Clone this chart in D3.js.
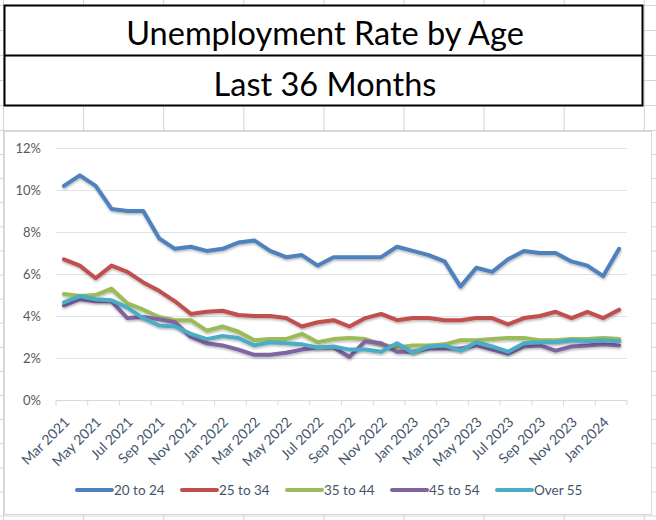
<!DOCTYPE html>
<html lang="en">
  <head>
    <meta charset="utf-8" />
    <title>Unemployment Rate by Age</title>
    <script src="https://d3js.org/d3.v7.min.js" charset="utf-8"></script>
    <style>
      body { margin: 0; background: #fff; }
      svg text { font-family: Lato, "Noto Sans", sans-serif; }
    </style>
  </head>
  <body>
    <div id="graph-container"></div>
    <script type="text/javascript">
      const months = [
        "Mar 2021", "Apr 2021", "May 2021", "Jun 2021", "Jul 2021", "Aug 2021",
        "Sep 2021", "Oct 2021", "Nov 2021", "Dec 2021", "Jan 2022", "Feb 2022",
        "Mar 2022", "Apr 2022", "May 2022", "Jun 2022", "Jul 2022", "Aug 2022",
        "Sep 2022", "Oct 2022", "Nov 2022", "Dec 2022", "Jan 2023", "Feb 2023",
        "Mar 2023", "Apr 2023", "May 2023", "Jun 2023", "Jul 2023", "Aug 2023",
        "Sep 2023", "Oct 2023", "Nov 2023", "Dec 2023", "Jan 2024", "Feb 2024"
      ];
      const seriesNames = ["20 to 24", "25 to 34", "35 to 44", "45 to 54", "Over 55"];
      const age20to24 = [10.2, 10.7, 10.2, 9.1, 9.0, 9.0, 7.7, 7.2, 7.3, 7.1, 7.2, 7.5,
        7.6, 7.1, 6.8, 6.9, 6.4, 6.8, 6.8, 6.8, 6.8, 7.3, 7.1, 6.9,
        6.6, 5.4, 6.3, 6.1, 6.7, 7.1, 7.0, 7.0, 6.6, 6.4, 5.9, 7.2];
      const age25to34 = [6.7, 6.4, 5.8, 6.4, 6.1, 5.6, 5.2, 4.7, 4.1, 4.2, 4.25, 4.05,
        4.0, 4.0, 3.9, 3.5, 3.7, 3.8, 3.5, 3.9, 4.1, 3.8, 3.9, 3.9,
        3.8, 3.8, 3.9, 3.9, 3.6, 3.9, 4.0, 4.2, 3.9, 4.2, 3.9, 4.3];
      const age35to44 = [5.05, 4.95, 5.0, 5.3, 4.6, 4.3, 3.95, 3.8, 3.8, 3.3, 3.5, 3.25,
        2.85, 2.9, 2.9, 3.15, 2.75, 2.9, 2.95, 2.9, 2.65, 2.5, 2.6, 2.6,
        2.65, 2.85, 2.85, 2.9, 2.95, 2.95, 2.85, 2.85, 2.9, 2.9, 2.95, 2.9];
      const age45to54 = [4.5, 4.8, 4.7, 4.7, 3.9, 3.95, 3.85, 3.7, 3.0, 2.7, 2.6, 2.4,
        2.15, 2.15, 2.25, 2.4, 2.5, 2.5, 2.05, 2.8, 2.7, 2.3, 2.3, 2.45,
        2.45, 2.45, 2.6, 2.4, 2.2, 2.55, 2.6, 2.35, 2.55, 2.6, 2.65, 2.6];
      const over55 = [4.65, 4.95, 4.8, 4.75, 4.4, 3.9, 3.55, 3.5, 3.15, 2.9, 3.05, 2.95,
        2.6, 2.75, 2.7, 2.65, 2.5, 2.55, 2.4, 2.4, 2.3, 2.7, 2.25, 2.55,
        2.6, 2.35, 2.75, 2.55, 2.3, 2.7, 2.75, 2.75, 2.85, 2.8, 2.85, 2.8];
      const yTicks = [0, 2, 4, 6, 8, 10, 12];

      const cW = 656, cH = 520;
      const cColor = ["#4f81bd", "#c0504d", "#9bbb59", "#8064a2", "#4bacc6"];
      const vSeries = [age20to24, age25to34, age35to44, age45to54, over55];

      const svg = d3
        .select("#graph-container")
        .append("svg")
        .attr("width", cW)
        .attr("height", cH);

      const defs = svg.append("defs");
      defs
        .append("filter")
        .attr("id", "shadow")
        .attr("x", "-10%").attr("y", "-10%")
        .attr("width", "120%").attr("height", "130%")
        .append("feDropShadow")
        .attr("dx", 0.5).attr("dy", 1.5)
        .attr("stdDeviation", 1)
        .attr("flood-color", "#000")
        .attr("flood-opacity", 0.3);

      //spreadsheet grid behind
      const grid = svg.append("g").attr("stroke", "#d4d4d4").attr("stroke-width", 1);
      d3.range(3.5, cW, 80.1).forEach((x) => {
        grid.append("line").attr("x1", x).attr("x2", x).attr("y1", 0).attr("y2", cH);
      });
      d3.range(5.5, 131, 25).concat(d3.range(154.5, cH, 24.1)).forEach((y) => {
        grid.append("line").attr("x1", 0).attr("x2", cW).attr("y1", y).attr("y2", y);
      });

      //title boxes
      svg.append("rect").attr("x", 4.5).attr("y", 5.5).attr("width", 638).attr("height", 100)
        .attr("fill", "#fff").attr("stroke", "#000").attr("stroke-width", 2);
      svg.append("line").attr("x1", 4.5).attr("x2", 642.5).attr("y1", 55.5).attr("y2", 55.5)
        .attr("stroke", "#000").attr("stroke-width", 2);
      svg.append("text").attr("x", 325).attr("y", 45).attr("text-anchor", "middle")
        .attr("font-size", 32.5).attr("fill", "#000").text("Unemployment Rate by Age");
      svg.append("text").attr("x", 325).attr("y", 96).attr("text-anchor", "middle")
        .attr("font-size", 32.5).attr("fill", "#000").text("Last 36 Months");

      //chart area
      svg.append("rect").attr("x", 4.5).attr("y", 131.5).attr("width", 647).attr("height", 383)
        .attr("fill", "#fff").attr("stroke", "#d9d9d9");

      const xScale = d3.scalePoint().domain(months).range([56, 627]).padding(0.5);
      const step = xScale.step();
      const yScale = d3.scaleLinear().domain([0, 12]).range([400, 148]);

      //gridlines
      svg.append("g")
        .selectAll("line")
        .data(yTicks.slice(1))
        .enter()
        .append("line")
        .attr("x1", 56).attr("x2", 627)
        .attr("y1", (d) => Math.round(yScale(d)) + 0.5)
        .attr("y2", (d) => Math.round(yScale(d)) + 0.5)
        .attr("stroke", "#dce4ec");

      //y axis labels
      svg.append("g")
        .selectAll("text")
        .data(yTicks)
        .enter()
        .append("text")
        .attr("x", 41)
        .attr("y", (d) => yScale(d))
        .attr("dy", "0.35em")
        .attr("text-anchor", "end")
        .attr("font-size", 13)
        .attr("fill", "#595959")
        .text((d) => d + "%");

      //x axis
      const cTickMonths = months.filter((d, i) => i % 2 === 0);
      const xAxis = svg.append("g").attr("transform", `translate(0,${Math.round(yScale(0)) + 0.5})`);
      xAxis.append("line").attr("x1", 56).attr("x2", 627).attr("stroke", "#d9d9d9");
      xAxis.selectAll(".tick")
        .data(cTickMonths.concat([null]))
        .enter()
        .append("line")
        .attr("x1", (d) => d === null ? 627 : xScale(d) - step / 2)
        .attr("x2", (d) => d === null ? 627 : xScale(d) - step / 2)
        .attr("y1", 0).attr("y2", 5)
        .attr("stroke", "#d9d9d9");
      xAxis.selectAll("text")
        .data(cTickMonths)
        .enter()
        .append("text")
        .attr("transform", (d) => `translate(${xScale(d) + 3},19) rotate(-45)`)
        .attr("dy", "0.35em")
        .attr("text-anchor", "end")
        .attr("font-size", 14)
        .attr("fill", "#44546a")
        .text((d) => d);

      //lines
      const line = d3
        .line()
        .x((d, i) => xScale(months[i]))
        .y((d) => yScale(d));
      svg.append("g")
        .selectAll("path")
        .data(vSeries)
        .enter()
        .append("path")
        .attr("d", (d) => line(d))
        .attr("fill", "none")
        .attr("stroke", (d, i) => cColor[i])
        .attr("stroke-width", 4)
        .attr("stroke-linejoin", "round")
        .attr("stroke-linecap", "round")
        .attr("filter", "url(#shadow)");

      //legend
      const legend = svg.append("g").attr("transform", "translate(77,490)");
      const item = legend
        .selectAll("g")
        .data(seriesNames)
        .enter()
        .append("g")
        .attr("transform", (d, i) => `translate(${i * 105},0)`);
      item.append("line")
        .attr("x1", 0).attr("x2", 35)
        .attr("stroke", (d, i) => cColor[i])
        .attr("stroke-width", 4)
        .attr("stroke-linecap", "round");
      item.append("text")
        .attr("x", 37)
        .attr("dy", "0.35em")
        .attr("font-size", 13.5)
        .attr("fill", "#44546a")
        .text((d) => d);
    </script>
  </body>
</html>
